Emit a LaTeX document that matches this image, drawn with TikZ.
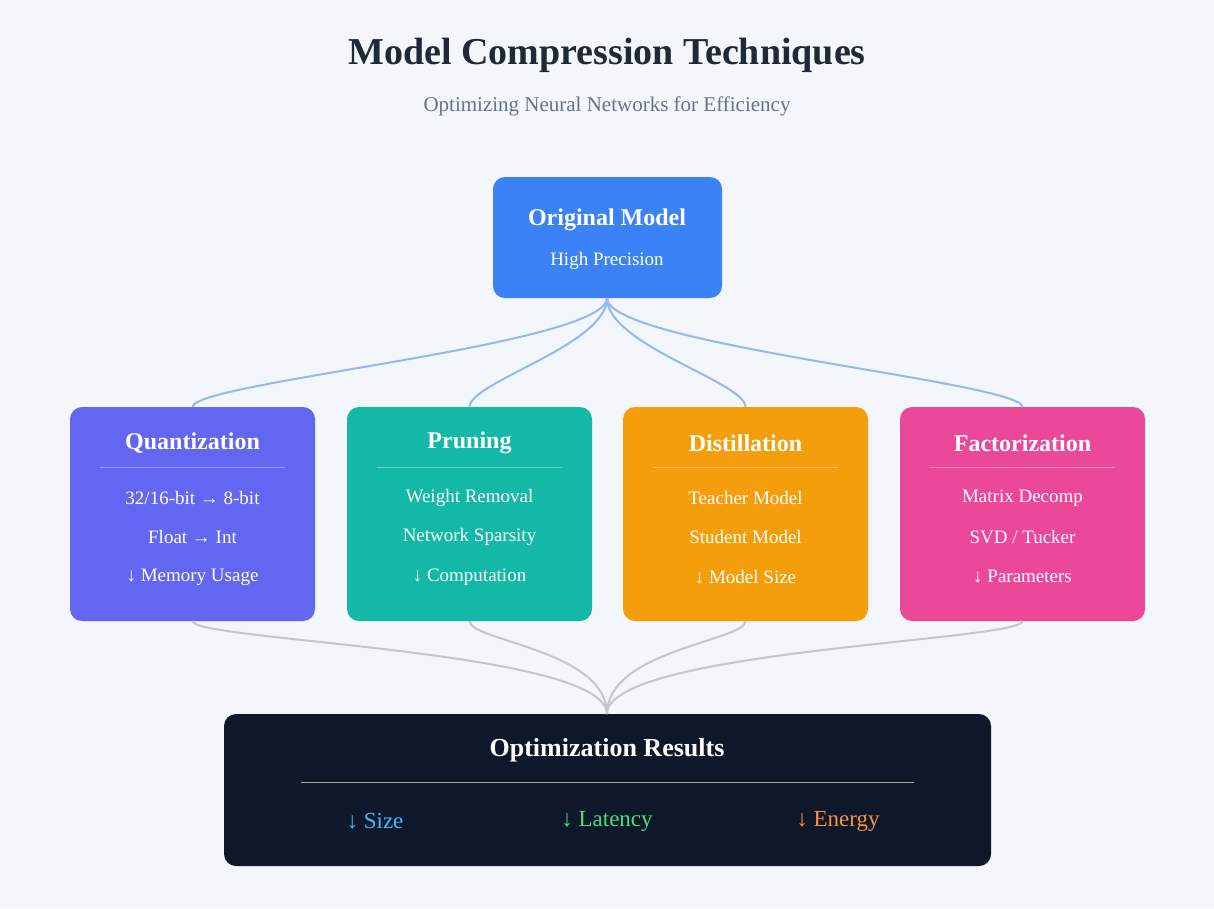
\documentclass[tikz,border=0pt]{standalone}
\usepackage{fontspec}
\setmainfont{Liberation Serif}
\usetikzlibrary{calc}
\begin{document}
\begin{tikzpicture}[x=1pt,y=-1pt,
  box/.style={rounded corners=12pt,draw=none},
  ttl/.style={font=\bfseries\fontsize{24}{28}\selectfont,text=white},
  itm/.style={font=\fontsize{19}{22}\selectfont,text=white},
  bot/.style={draw=gray!45,line width=2pt}]
\definecolor{bg}{HTML}{F3F6FA}
\definecolor{c0}{HTML}{3B82F6}\definecolor{c1}{HTML}{6366F1}\definecolor{c2}{HTML}{14B8A6}
\definecolor{c3}{HTML}{F59E0B}\definecolor{c4}{HTML}{EC4899}\definecolor{dk}{HTML}{0F172A}
\definecolor{tt}{HTML}{1F2937}\definecolor{st}{HTML}{64748B}\definecolor{lnc}{HTML}{93B8F5}
\definecolor{r1}{HTML}{38BDF8}\definecolor{r2}{HTML}{4ADE80}\definecolor{r3}{HTML}{FB923C}
\fill[bg] (0,0) rectangle (1214,908);
\node[font=\bfseries\fontsize{38}{44}\selectfont,text=tt] (title) at (607,55) {Model Compression Techniques};
\node[font=\fontsize{21}{25}\selectfont,text=st] (sub) at (607,106) {Optimizing Neural Networks for Efficiency};
% original
\fill[box,fill=c0] (493,177) rectangle (722,298);
\coordinate (o) at (607,298);
\node[ttl] (ot) at (607,220) {Original Model};
\node[itm] (oi) at (607,261) {High Precision};
% boxes
\foreach \n/\x/\c/\t/\a/\b/\d in {
 q/70/c1/Quantization/{32/16-bit → 8-bit}/{Float → Int}/{↓ Memory Usage},
 p/347/c2/Pruning/{Weight Removal}/{Network Sparsity}/{↓ Computation},
 d/623/c3/Distillation/{Teacher Model}/{Student Model}/{↓ Model Size},
 f/900/c4/Factorization/{Matrix Decomp}/{SVD / Tucker}/{↓ Parameters}}{
 \fill[box,fill=\c] (\x,407) rectangle ++(245,214);
 \coordinate (\n t) at (\x+122.5,407);
 \coordinate (\n b) at (\x+122.5,621);
 \node[ttl] (\n T) at (\x+122.5,443) {\t};
 \draw[white,opacity=0.35,line width=1pt] (\x+30,467) -- (\x+215,467);
 \node[itm] (\n 1) at (\x+122.5,498) {\a};
 \node[itm] (\n 2) at (\x+122.5,537) {\b};
 \node[itm] (\n 3) at (\x+122.5,577) {\d};
}
\foreach \n in {q,p,d,f}{
 \draw[draw=lnc,line width=2pt] (o) .. controls (607,345) and ($(\n t)+(0,-25)$) .. (\n t);
}
% results
\fill[box,fill=dk] (224,714) rectangle (991,866);
\coordinate (r) at (607,714);
\foreach \n in {q,p,d,f}{
 \draw[bot] (\n b) .. controls ($(\n b)+(0,20)$) and (607,650) .. (r);
}
\node[font=\bfseries\fontsize{26}{30}\selectfont,text=white] (rt) at (607,750) {Optimization Results};
\draw[gray!70,line width=1pt] (301,782) -- (914,782);
\node[font=\fontsize{23}{27}\selectfont,text=r1] (s1) at (375,821) {↓ Size};
\node[font=\fontsize{23}{27}\selectfont,text=r2] (s2) at (607,821) {↓ Latency};
\node[font=\fontsize{23}{27}\selectfont,text=r3] (s3) at (838,821) {↓ Energy};
\end{tikzpicture}
\end{document}
